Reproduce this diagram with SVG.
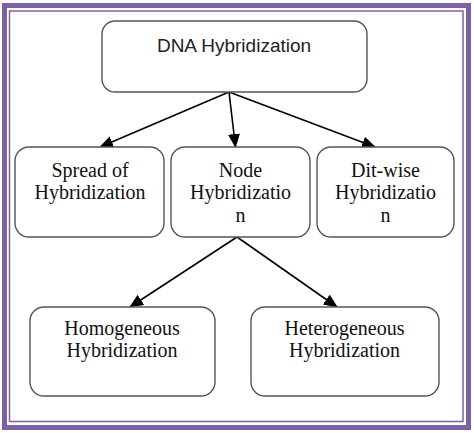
<svg xmlns="http://www.w3.org/2000/svg" width="474" height="433" viewBox="0 0 474 433">
<style>
.box{fill:#fff;stroke:#555;stroke-width:1.4}
.serif{font-family:"Liberation Serif","Times New Roman",serif;font-size:20px;fill:#111;text-anchor:middle}
.sans{font-family:"Liberation Sans",Arial,sans-serif;font-size:19px;fill:#222;text-anchor:middle}
.conn{stroke:#000;stroke-width:1.6;fill:none;marker-end:url(#arr)}
</style>
<defs>
<marker id="arr" markerUnits="userSpaceOnUse" markerWidth="14" markerHeight="12" viewBox="0 0 14 12" refX="13" refY="6" orient="auto">
<path d="M0,0 L14,6 L0,12 Z" fill="#000"/>
</marker>
</defs>
<rect x="0" y="0" width="474" height="433" fill="#fff"/>
<rect x="4.5" y="5.5" width="464" height="422" fill="none" stroke="#7d62a3" stroke-width="5"/>
<rect x="9.5" y="11" width="453.5" height="410.5" fill="none" stroke="#7d62a3" stroke-width="1.5"/>
<g id="connectors">
<line class="conn" x1="229" y1="92" x2="100" y2="147"/>
<line class="conn" x1="229" y1="92" x2="235.5" y2="147"/>
<line class="conn" x1="229" y1="92" x2="375" y2="147"/>
<line class="conn" x1="237" y1="237" x2="130" y2="307"/>
<line class="conn" x1="237" y1="237" x2="337" y2="307"/>
</g>
<g id="dna">
<rect class="box" x="102" y="21" width="265" height="71" rx="13"/>
<text class="sans" x="234" y="52">DNA Hybridization</text>
</g>
<g id="spread">
<rect class="box" x="15" y="147" width="149" height="90" rx="14"/>
<text class="serif" x="90" y="177">Spread of</text>
<text class="serif" x="90" y="199">Hybridization</text>
</g>
<g id="node">
<rect class="box" x="171" y="147" width="139" height="90" rx="14"/>
<text class="serif" x="240.5" y="177">Node</text>
<text class="serif" x="240.5" y="199">Hybridizatio</text>
<text class="serif" x="240.5" y="222">n</text>
</g>
<g id="ditwise">
<rect class="box" x="317" y="147" width="137" height="90" rx="14"/>
<text class="serif" x="385.5" y="177">Dit-wise</text>
<text class="serif" x="385.5" y="199">Hybridizatio</text>
<text class="serif" x="385.5" y="222">n</text>
</g>
<g id="homogeneous">
<rect class="box" x="30" y="307" width="185" height="89" rx="14"/>
<text class="serif" x="122" y="335">Homogeneous</text>
<text class="serif" x="122" y="357">Hybridization</text>
</g>
<g id="heterogeneous">
<rect class="box" x="251" y="307" width="188" height="89" rx="14"/>
<text class="serif" x="344.5" y="335">Heterogeneous</text>
<text class="serif" x="344.5" y="357">Hybridization</text>
</g>
</svg>
